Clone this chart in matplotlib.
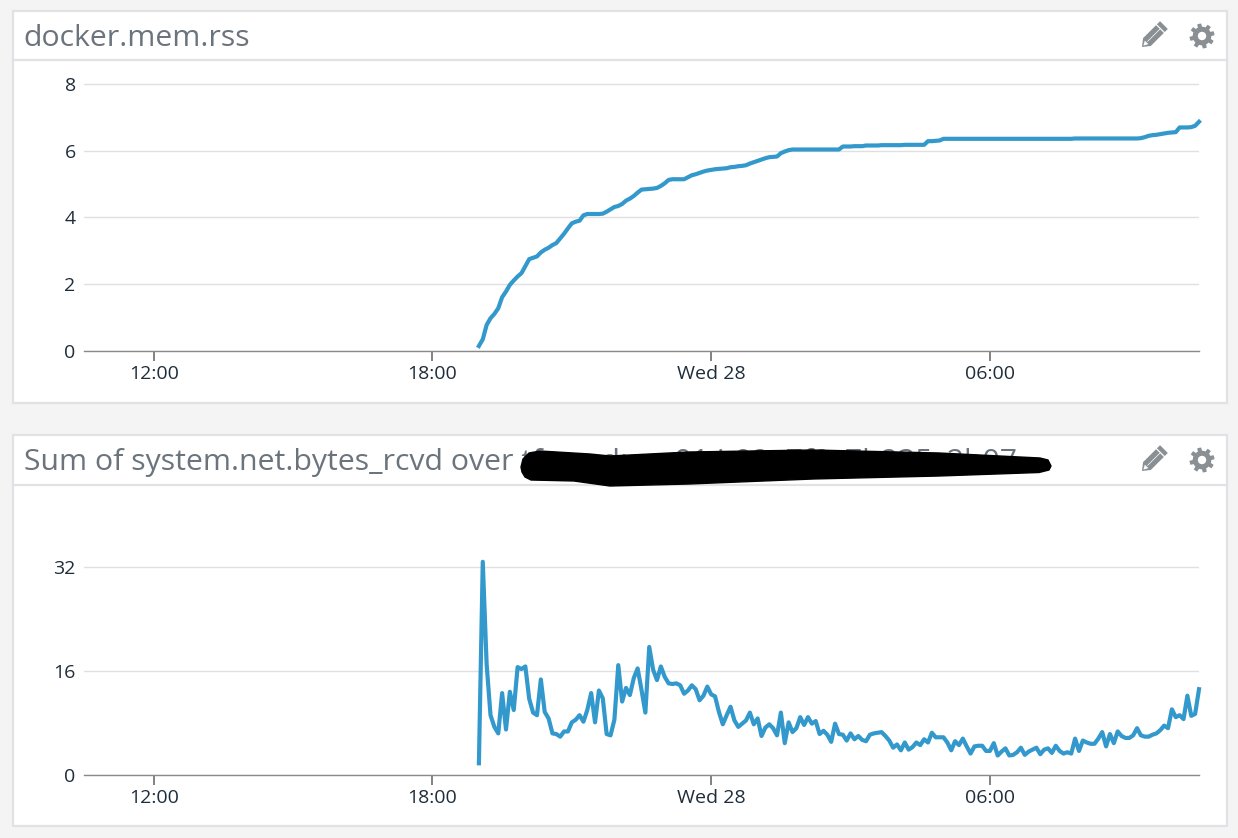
# -*- coding: utf-8 -*-
import numpy as np
import pandas as pd
import matplotlib
matplotlib.use('Agg')
import matplotlib.pyplot as plt
import matplotlib.dates as mdates
from matplotlib.patches import Rectangle, Polygon, Circle

plt.rcParams['font.family'] = ['Open Sans', 'DejaVu Sans']

# 5 minute samples, 27 Jun 19:00 -> 28 Jun 10:30
times = pd.date_range('2017-06-27 19:00', periods=187, freq='5min')

mem_rss = [0.15, 0.35, 0.78, 0.98, 1.11, 1.28, 1.61, 1.78, 1.98, 2.11,
           2.23, 2.33, 2.54, 2.75, 2.79, 2.83, 2.95, 3.03, 3.09, 3.17,
           3.23, 3.37, 3.51, 3.67, 3.82, 3.87, 3.90, 4.06, 4.10, 4.10,
           4.10, 4.10, 4.11, 4.17, 4.24, 4.31, 4.34, 4.40, 4.50, 4.56,
           4.64, 4.74, 4.83, 4.84, 4.85, 4.86, 4.88, 4.94, 5.02, 5.12,
           5.14, 5.14, 5.14, 5.14, 5.20, 5.26, 5.29, 5.33, 5.37, 5.40,
           5.42, 5.44, 5.45, 5.46, 5.47, 5.50, 5.51, 5.53, 5.54, 5.56,
           5.61, 5.65, 5.69, 5.73, 5.77, 5.80, 5.81, 5.82, 5.92, 5.97,
           6.01, 6.03, 6.03, 6.03, 6.03, 6.03, 6.03, 6.03, 6.03, 6.03,
           6.03, 6.03, 6.03, 6.03, 6.12, 6.12, 6.12, 6.13, 6.13, 6.13,
           6.15, 6.15, 6.15, 6.15, 6.16, 6.16, 6.16, 6.16, 6.16, 6.16,
           6.17, 6.17, 6.17, 6.17, 6.17, 6.17, 6.28, 6.28, 6.29, 6.30,
           6.35, 6.35, 6.35, 6.35, 6.35, 6.35, 6.35, 6.35, 6.35, 6.35,
           6.35, 6.35, 6.35, 6.35, 6.35, 6.35, 6.35, 6.35, 6.35, 6.35,
           6.35, 6.35, 6.35, 6.35, 6.35, 6.35, 6.35, 6.35, 6.35, 6.35,
           6.35, 6.35, 6.35, 6.35, 6.36, 6.36, 6.36, 6.36, 6.36, 6.36,
           6.36, 6.36, 6.36, 6.36, 6.36, 6.36, 6.36, 6.36, 6.36, 6.36,
           6.36, 6.37, 6.40, 6.44, 6.46, 6.47, 6.49, 6.51, 6.53, 6.54,
           6.55, 6.69, 6.69, 6.69, 6.70, 6.74, 6.86]

bytes_rcvd = [1.8, 32.8, 17.0, 9.2, 7.4, 6.4, 12.6, 7.0, 12.8, 10.0,
              16.6, 16.3, 16.7, 11.7, 9.6, 9.2, 14.7, 9.7, 8.7, 6.4,
              6.3, 5.9, 6.7, 6.7, 8.1, 8.5, 9.2, 8.2, 10.0, 12.6,
              8.1, 13.0, 11.8, 6.3, 6.1, 8.5, 16.9, 11.3, 13.4, 12.3,
              14.9, 16.4, 13.1, 9.6, 19.7, 16.2, 14.6, 16.7, 15.1, 14.1,
              14.0, 14.1, 13.8, 12.5, 13.0, 13.8, 13.2, 11.5, 12.2, 13.6,
              12.4, 12.1, 9.7, 7.8, 9.2, 10.5, 8.4, 7.4, 7.9, 8.4,
              9.6, 7.8, 8.7, 6.0, 7.3, 7.8, 7.2, 6.1, 9.6, 4.9,
              8.1, 6.6, 7.2, 8.9, 7.7, 8.9, 7.9, 8.3, 6.3, 6.8,
              6.2, 5.1, 7.9, 6.3, 6.2, 5.3, 6.4, 5.5, 6.0, 5.4,
              5.2, 6.2, 6.4, 6.5, 6.6, 6.0, 5.3, 4.2, 4.7, 3.8,
              5.0, 3.9, 4.3, 5.0, 4.6, 5.5, 5.0, 6.5, 5.8, 5.8,
              5.8, 5.0, 3.8, 5.2, 4.6, 5.6, 4.4, 3.3, 4.4, 4.5,
              4.5, 3.7, 3.7, 4.9, 3.0, 3.6, 4.1, 3.0, 3.1, 3.5,
              4.2, 3.1, 3.6, 3.9, 4.2, 3.2, 3.9, 4.1, 3.4, 4.5,
              3.7, 3.3, 3.5, 3.3, 5.6, 3.7, 5.3, 5.0, 4.8, 4.8,
              5.6, 6.6, 4.4, 6.3, 4.9, 6.7, 6.0, 5.7, 5.7, 6.1,
              7.2, 6.1, 5.9, 5.9, 6.2, 6.4, 6.9, 7.6, 7.2, 10.1,
              8.9, 9.2, 8.6, 12.2, 9.1, 9.4, 13.2]

xtick_times = ['2017-06-27 12:00', '2017-06-27 18:00', '2017-06-28 00:00', '2017-06-28 06:00']
xtick_labels = ['12:00', '18:00', 'Wed 28', '06:00']
mem_yticks = [0, 2, 4, 6, 8]
rcvd_yticks = [0, 16, 32]

title_mem = 'docker.mem.rss'
title_rcvd = 'Sum of system.net.bytes_rcvd over tf-prod:ou-01 i-02a7f0c7b235c2b07'

LINE = '#3399cc'
BORDER = '#e1e1e6'
TITLE = '#6b747c'
LABEL = '#1f2d3a'
ICON = '#8a8f94'
W, H = 1238, 838

fig = plt.figure(figsize=(W / 100, H / 100), dpi=100, facecolor='#f4f4f4')

# overlay in pixel coords for the panels, headers and icons
bg = fig.add_axes([0, 0, 1, 1], zorder=0)
bg.set_xlim(0, W)
bg.set_ylim(H, 0)
bg.axis('off')


def draw_icons(y):
    # pencil
    ang = np.radians(-45)
    d = np.array([np.cos(ang), np.sin(ang)])
    n = np.array([-d[1], d[0]])
    c = np.array([1142.0, y + 11.0])
    p1 = c + d * 7 + n * 5.5
    p2 = c + d * 7 - n * 5.5
    p3 = c + d * 31 - n * 5.5
    p4 = c + d * 31 + n * 5.5
    bg.add_patch(Polygon([c, p2, p3, p4, p1], closed=True, fc=ICON, ec='none'))
    bg.add_patch(Polygon([c + d * 2, c + d * 6.5 - n * 2.5, c + d * 6.5 + n * 2.5],
                         closed=True, fc='white', ec='none'))
    bg.plot([(c + d * 26 - n * 6)[0], (c + d * 26 + n * 6)[0]],
            [(c + d * 26 - n * 6)[1], (c + d * 26 + n * 6)[1]], color='white', lw=0.9)
    bg.plot([(c + d * 8)[0], (c + d * 25)[0]], [(c + d * 8)[1], (c + d * 25)[1]],
            color='white', lw=0.5)
    # gear
    cx, cy = 1202.0, y
    angs = np.linspace(0, 2 * np.pi, 97)[:-1]
    rad = np.where((np.mod(angs + np.pi / 8, np.pi / 4) < np.pi / 8), 12.5, 9.3)
    bg.add_patch(Polygon(np.c_[cx + rad * np.cos(angs), cy + rad * np.sin(angs)],
                         closed=True, fc=ICON, ec='none'))
    bg.add_patch(Circle((cx, cy), 4.2, fc='white', ec='none'))


def draw_panel(top, bottom, header, title):
    bg.add_patch(Rectangle((13, top), 1214, bottom - top, fc='white', ec=BORDER, lw=1.6))
    bg.plot([13, 1227], [header, header], color=BORDER, lw=1.6)
    bg.text(23.5, top + 27.5, title, color=TITLE, fontsize=21.8, ha='left', va='center')
    draw_icons(top + 25)


def draw_chart(px_top, px_bottom, ylim, yticks, values):
    ax = fig.add_axes([84 / W, 1 - px_bottom / H, 1115 / W, (px_bottom - px_top) / H], zorder=1)
    ax.patch.set_visible(False)
    ax.plot(times, values, color=LINE, lw=3.0, solid_joinstyle='round', clip_on=False, zorder=3)
    ax.set_xlim(pd.Timestamp('2017-06-27 10:30'), pd.Timestamp('2017-06-28 10:30'))
    ax.set_ylim(*ylim)
    ax.set_yticks(yticks)
    ax.set_xticks(mdates.date2num(pd.to_datetime(xtick_times)))
    ax.set_xticklabels(xtick_labels)
    ax.grid(axis='y', color='#e0e0e0', lw=1)
    ax.set_axisbelow(True)
    for s in ['top', 'left', 'right']:
        ax.spines[s].set_visible(False)
    ax.spines['bottom'].set_color('#8a8a8a')
    ax.spines['bottom'].set_linewidth(1.0)
    ax.tick_params(axis='x', length=7, width=1.3, color='#777777', labelsize=14,
                   labelcolor=LABEL, pad=3.3)
    ax.tick_params(axis='y', length=0, labelsize=14, labelcolor=LABEL, pad=6)
    return ax


draw_panel(11, 403, 60, title_mem)
draw_panel(435, 826, 485, title_rcvd)

draw_chart(77, 351, (0, 8.2), mem_yticks, mem_rss)
draw_chart(515, 775, (0, 40), rcvd_yticks, bytes_rcvd)

# black marker scribble over the host name
scribble_x = [521, 523, 529, 540, 590, 610, 689, 813, 939, 1040, 1048, 1051,
              1049, 1039, 939, 813, 689, 610, 574, 531, 525, 522]
scribble_y = [467, 459, 453, 451, 454, 456, 452, 450, 453, 458, 460, 466,
              470, 472.5, 476, 479, 484, 486, 481, 480, 477, 472]
bg.add_patch(Polygon(np.c_[scribble_x, scribble_y], closed=True, fc='black', ec='black', lw=1,
                     joinstyle='round', zorder=5))

fig.savefig('out.png', dpi=100, facecolor=fig.get_facecolor())
